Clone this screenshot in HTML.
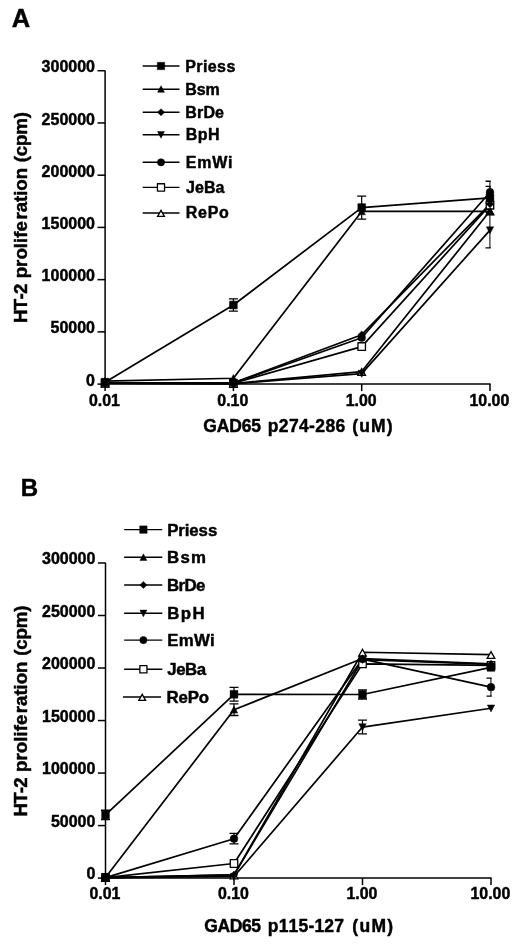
<!DOCTYPE html>
<html><head><meta charset="utf-8"><title>Figure</title>
<style>html,body{margin:0;padding:0;background:#fff}svg{display:block}</style></head>
<body>
<svg width="520" height="945" viewBox="0 0 520 945" font-family="Liberation Sans, Arial, Helvetica, sans-serif" font-weight="bold" fill="#000" stroke="#000" stroke-width="0.45" stroke-linejoin="round">
<rect width="520" height="945" fill="#fff" stroke="none"/>
<line x1="105.10" y1="70.42" x2="105.10" y2="384.70" stroke="#000" stroke-width="1.5"/>
<line x1="104.60" y1="384.10" x2="490.60" y2="384.10" stroke="#000" stroke-width="1.5"/>
<line x1="97.50" y1="384.10" x2="105.10" y2="384.10" stroke="#000" stroke-width="1.5"/>
<text x="95.00" y="385.70" font-size="16" text-anchor="end" >0</text>
<line x1="97.50" y1="331.87" x2="105.10" y2="331.87" stroke="#000" stroke-width="1.5"/>
<text x="95.00" y="333.47" font-size="16" text-anchor="end" >50000</text>
<line x1="97.50" y1="279.64" x2="105.10" y2="279.64" stroke="#000" stroke-width="1.5"/>
<text x="95.00" y="281.24" font-size="16" text-anchor="end" >100000</text>
<line x1="97.50" y1="227.41" x2="105.10" y2="227.41" stroke="#000" stroke-width="1.5"/>
<text x="95.00" y="229.01" font-size="16" text-anchor="end" >150000</text>
<line x1="97.50" y1="175.18" x2="105.10" y2="175.18" stroke="#000" stroke-width="1.5"/>
<text x="95.00" y="176.78" font-size="16" text-anchor="end" >200000</text>
<line x1="97.50" y1="122.95" x2="105.10" y2="122.95" stroke="#000" stroke-width="1.5"/>
<text x="95.00" y="124.55" font-size="16" text-anchor="end" >250000</text>
<line x1="97.50" y1="70.72" x2="105.10" y2="70.72" stroke="#000" stroke-width="1.5"/>
<text x="95.00" y="72.32" font-size="16" text-anchor="end" >300000</text>
<line x1="105.10" y1="384.10" x2="105.10" y2="391.10" stroke="#000" stroke-width="1.5"/>
<text x="104.50" y="405.50" font-size="15.9" text-anchor="middle" >0.01</text>
<line x1="233.40" y1="384.10" x2="233.40" y2="391.10" stroke="#000" stroke-width="1.5"/>
<text x="232.80" y="405.50" font-size="15.9" text-anchor="middle" >0.10</text>
<line x1="361.70" y1="384.10" x2="361.70" y2="391.10" stroke="#000" stroke-width="1.5"/>
<text x="361.10" y="405.50" font-size="15.9" text-anchor="middle" >1.00</text>
<line x1="490.00" y1="384.10" x2="490.00" y2="391.10" stroke="#000" stroke-width="1.5"/>
<text x="489.40" y="405.50" font-size="15.9" text-anchor="middle" >10.00</text>
<polyline fill="none" stroke="#000" stroke-width="1.7" stroke-linejoin="round" points="105.10,383.26 233.40,383.58 361.70,371.56 490.00,210.91"/>
<polyline fill="none" stroke="#000" stroke-width="1.7" stroke-linejoin="round" points="105.10,383.06 233.40,383.26 361.70,346.60 490.00,205.16"/>
<polyline fill="none" stroke="#000" stroke-width="1.7" stroke-linejoin="round" points="105.10,382.74 233.40,383.16 361.70,337.72 490.00,192.21"/>
<polyline fill="none" stroke="#000" stroke-width="1.7" stroke-linejoin="round" points="105.10,383.26 233.40,383.79 361.70,373.65 490.00,230.13"/>
<polyline fill="none" stroke="#000" stroke-width="1.7" stroke-linejoin="round" points="105.10,382.74 233.40,382.85 361.70,334.69 490.00,204.12"/>
<polyline fill="none" stroke="#000" stroke-width="1.7" stroke-linejoin="round" points="105.10,381.07 233.40,378.25 361.70,211.43 490.00,211.43"/>
<polyline fill="none" stroke="#000" stroke-width="1.7" stroke-linejoin="round" points="105.10,382.22 233.40,305.02 361.70,207.56 490.00,197.95"/>
<clipPath id="c384"><rect x="95.1" y="49.8" width="395.60" height="354.3"/></clipPath>
<g clip-path="url(#c384)">
<line x1="233.40" y1="298.97" x2="233.40" y2="311.08" stroke="#000" stroke-width="1.2"/>
<line x1="228.90" y1="298.97" x2="237.90" y2="298.97" stroke="#000" stroke-width="1.3"/>
<line x1="228.90" y1="311.08" x2="237.90" y2="311.08" stroke="#000" stroke-width="1.3"/>
<line x1="361.70" y1="196.07" x2="361.70" y2="219.05" stroke="#000" stroke-width="1.2"/>
<line x1="357.20" y1="196.07" x2="366.20" y2="196.07" stroke="#000" stroke-width="1.3"/>
<line x1="357.20" y1="219.05" x2="366.20" y2="219.05" stroke="#000" stroke-width="1.3"/>
<line x1="490.00" y1="186.46" x2="490.00" y2="209.44" stroke="#000" stroke-width="1.2"/>
<line x1="485.50" y1="186.46" x2="494.50" y2="186.46" stroke="#000" stroke-width="1.3"/>
<line x1="485.50" y1="209.44" x2="494.50" y2="209.44" stroke="#000" stroke-width="1.3"/>
<line x1="490.00" y1="212.37" x2="490.00" y2="247.88" stroke="#000" stroke-width="1.2"/>
<line x1="485.50" y1="212.37" x2="494.50" y2="212.37" stroke="#000" stroke-width="1.3"/>
<line x1="485.50" y1="247.88" x2="494.50" y2="247.88" stroke="#000" stroke-width="1.3"/>
<line x1="490.00" y1="181.24" x2="490.00" y2="203.18" stroke="#000" stroke-width="1.2"/>
<line x1="485.50" y1="181.24" x2="494.50" y2="181.24" stroke="#000" stroke-width="1.3"/>
<line x1="485.50" y1="203.18" x2="494.50" y2="203.18" stroke="#000" stroke-width="1.3"/>
</g>
<polygon points="105.10,380.28 108.92,387.12 101.28,387.12" fill="#fff" stroke-width="1.3" stroke-linejoin="miter"/>
<polygon points="233.40,380.59 237.22,387.44 229.58,387.44" fill="#fff" stroke-width="1.3" stroke-linejoin="miter"/>
<polygon points="361.70,368.58 365.52,375.42 357.88,375.42" fill="#fff" stroke-width="1.3" stroke-linejoin="miter"/>
<polygon points="490.00,207.92 493.82,214.76 486.18,214.76" fill="#fff" stroke-width="1.3" stroke-linejoin="miter"/>
<rect x="101.35" y="379.21" width="7.50" height="7.70" fill="#fff" stroke-width="1.3"/>
<rect x="229.65" y="379.41" width="7.50" height="7.70" fill="#fff" stroke-width="1.3"/>
<rect x="357.95" y="342.75" width="7.50" height="7.70" fill="#fff" stroke-width="1.3"/>
<rect x="486.25" y="201.31" width="7.50" height="7.70" fill="#fff" stroke-width="1.3"/>
<circle cx="105.10" cy="382.74" r="3.85"/>
<circle cx="233.40" cy="383.16" r="3.85"/>
<circle cx="361.70" cy="337.72" r="3.85"/>
<circle cx="490.00" cy="192.21" r="3.85"/>
<polygon points="105.10,386.97 108.80,379.95 101.39,379.95"/>
<polygon points="233.40,387.49 237.11,380.47 229.69,380.47"/>
<polygon points="361.70,377.36 365.40,370.34 358.00,370.34"/>
<polygon points="490.00,233.83 493.70,226.81 486.30,226.81"/>
<polygon points="105.10,379.04 108.92,382.74 105.10,386.45 101.28,382.74"/>
<polygon points="233.40,379.14 237.22,382.85 233.40,386.55 229.58,382.85"/>
<polygon points="361.70,330.99 365.52,334.69 361.70,338.40 357.88,334.69"/>
<polygon points="490.00,200.41 493.82,204.12 490.00,207.82 486.18,204.12"/>
<polygon points="105.10,377.37 108.80,384.39 101.39,384.39"/>
<polygon points="233.40,374.55 237.11,381.57 229.69,381.57"/>
<polygon points="361.70,207.72 365.40,214.74 358.00,214.74"/>
<polygon points="490.00,207.72 493.70,214.74 486.30,214.74"/>
<rect x="101.20" y="378.32" width="7.80" height="7.80"/>
<rect x="229.50" y="301.12" width="7.80" height="7.80"/>
<rect x="357.80" y="203.66" width="7.80" height="7.80"/>
<rect x="486.10" y="194.05" width="7.80" height="7.80"/>
<line x1="142.70" y1="66.00" x2="179.50" y2="66.00" stroke="#000" stroke-width="1.4"/>
<rect x="157.30" y="62.30" width="7.40" height="7.40"/>
<text x="185.25" y="71.80" font-size="16" text-anchor="start" letter-spacing="0.408" >Priess</text>
<line x1="142.70" y1="89.20" x2="179.50" y2="89.20" stroke="#000" stroke-width="1.4"/>
<polygon points="161.00,85.69 164.51,92.34 157.49,92.34"/>
<text x="185.25" y="95.10" font-size="16" text-anchor="start" letter-spacing="-0.084" >Bsm</text>
<line x1="142.70" y1="112.30" x2="179.50" y2="112.30" stroke="#000" stroke-width="1.4"/>
<polygon points="161.00,108.78 164.63,112.30 161.00,115.81 157.37,112.30"/>
<text x="185.25" y="118.00" font-size="16" text-anchor="start" letter-spacing="0.178" >BrDe</text>
<line x1="142.70" y1="134.70" x2="179.50" y2="134.70" stroke="#000" stroke-width="1.4"/>
<polygon points="161.00,138.21 164.51,131.55 157.49,131.55"/>
<text x="185.65" y="140.20" font-size="16" text-anchor="start" letter-spacing="0.458" >BpH</text>
<line x1="142.70" y1="162.30" x2="179.50" y2="162.30" stroke="#000" stroke-width="1.4"/>
<circle cx="161.00" cy="162.30" r="3.65"/>
<text x="185.65" y="167.80" font-size="16" text-anchor="start" letter-spacing="0.869" >EmWi</text>
<line x1="142.70" y1="187.40" x2="179.50" y2="187.40" stroke="#000" stroke-width="1.4"/>
<rect x="157.45" y="183.75" width="7.10" height="7.30" fill="#fff" stroke-width="1.3"/>
<text x="186.08" y="192.70" font-size="16" text-anchor="start" letter-spacing="0.014" >JeBa</text>
<line x1="142.70" y1="213.00" x2="179.50" y2="213.00" stroke="#000" stroke-width="1.4"/>
<polygon points="161.00,210.34 164.40,216.44 157.60,216.44" fill="#fff" stroke-width="1.3" stroke-linejoin="miter"/>
<text x="185.65" y="217.60" font-size="16" text-anchor="start" letter-spacing="0.782" >RePo</text>
<text x="203.21 216.67 229.16 241.65 251.23 260.96 267.77 278.82 288.91 299.01 309.10 315.29 325.38 335.47 345.21 352.25 359.24 371.08 386.82" y="431.5" font-size="17.5">GAD65 p274-286 (uM)</text>
<text transform="translate(27.2,321.90) rotate(-90)" x="-1.03 11.71 22.36 27.82 38.22 43.59 55.03 62.32 73.76 78.96 84.17 90.41 102.39 109.61 119.95 126.12 131.25 142.61 154.03 159.69 165.75 175.98 187.22 203.68" y="0" font-size="18.7">HT-2 proliferation (cpm)</text>
<text x="11.69" y="26.70" font-size="25.5" text-anchor="start" >A</text>
<line x1="105.50" y1="562.68" x2="105.50" y2="878.70" stroke="#000" stroke-width="1.5"/>
<line x1="105.00" y1="878.10" x2="491.60" y2="878.10" stroke="#000" stroke-width="1.5"/>
<line x1="97.90" y1="878.10" x2="105.50" y2="878.10" stroke="#000" stroke-width="1.5"/>
<text x="95.40" y="879.10" font-size="16" text-anchor="end" >0</text>
<line x1="97.90" y1="825.58" x2="105.50" y2="825.58" stroke="#000" stroke-width="1.5"/>
<text x="95.40" y="826.58" font-size="16" text-anchor="end" >50000</text>
<line x1="97.90" y1="773.06" x2="105.50" y2="773.06" stroke="#000" stroke-width="1.5"/>
<text x="95.40" y="774.06" font-size="16" text-anchor="end" >100000</text>
<line x1="97.90" y1="720.54" x2="105.50" y2="720.54" stroke="#000" stroke-width="1.5"/>
<text x="95.40" y="721.54" font-size="16" text-anchor="end" >150000</text>
<line x1="97.90" y1="668.02" x2="105.50" y2="668.02" stroke="#000" stroke-width="1.5"/>
<text x="95.40" y="669.02" font-size="16" text-anchor="end" >200000</text>
<line x1="97.90" y1="615.50" x2="105.50" y2="615.50" stroke="#000" stroke-width="1.5"/>
<text x="95.40" y="616.50" font-size="16" text-anchor="end" >250000</text>
<line x1="97.90" y1="562.98" x2="105.50" y2="562.98" stroke="#000" stroke-width="1.5"/>
<text x="95.40" y="563.98" font-size="16" text-anchor="end" >300000</text>
<line x1="105.50" y1="878.10" x2="105.50" y2="885.10" stroke="#000" stroke-width="1.5"/>
<text x="104.90" y="898.80" font-size="15.9" text-anchor="middle" >0.01</text>
<line x1="234.00" y1="878.10" x2="234.00" y2="885.10" stroke="#000" stroke-width="1.5"/>
<text x="233.40" y="898.80" font-size="15.9" text-anchor="middle" >0.10</text>
<line x1="362.50" y1="878.10" x2="362.50" y2="885.10" stroke="#000" stroke-width="1.5"/>
<text x="361.90" y="898.80" font-size="15.9" text-anchor="middle" >1.00</text>
<line x1="491.00" y1="878.10" x2="491.00" y2="885.10" stroke="#000" stroke-width="1.5"/>
<text x="490.40" y="898.80" font-size="15.9" text-anchor="middle" >10.00</text>
<polyline fill="none" stroke="#000" stroke-width="1.7" stroke-linejoin="round" points="105.50,877.57 234.00,874.95 362.50,652.26 491.00,654.57"/>
<polyline fill="none" stroke="#000" stroke-width="1.7" stroke-linejoin="round" points="105.50,877.57 234.00,863.50 362.50,663.82 491.00,665.39"/>
<polyline fill="none" stroke="#000" stroke-width="1.7" stroke-linejoin="round" points="105.50,877.57 234.00,838.71 362.50,659.09 491.00,687.14"/>
<polyline fill="none" stroke="#000" stroke-width="1.7" stroke-linejoin="round" points="105.50,877.57 234.00,876.52 362.50,727.05 491.00,708.25"/>
<polyline fill="none" stroke="#000" stroke-width="1.7" stroke-linejoin="round" points="105.50,877.57 234.00,874.95 362.50,659.62 491.00,664.34"/>
<polyline fill="none" stroke="#000" stroke-width="1.7" stroke-linejoin="round" points="105.50,877.57 234.00,709.72 362.50,658.57 491.00,663.82"/>
<polyline fill="none" stroke="#000" stroke-width="1.7" stroke-linejoin="round" points="105.50,814.97 234.00,694.28 362.50,694.49 491.00,667.39"/>
<clipPath id="c878"><rect x="95.5" y="542.0" width="396.20" height="356.1"/></clipPath>
<g clip-path="url(#c878)">
<line x1="105.50" y1="810.24" x2="105.50" y2="819.70" stroke="#000" stroke-width="1.2"/>
<line x1="101.00" y1="810.24" x2="110.00" y2="810.24" stroke="#000" stroke-width="1.3"/>
<line x1="101.00" y1="819.70" x2="110.00" y2="819.70" stroke="#000" stroke-width="1.3"/>
<line x1="234.00" y1="687.45" x2="234.00" y2="701.11" stroke="#000" stroke-width="1.2"/>
<line x1="229.50" y1="687.45" x2="238.50" y2="687.45" stroke="#000" stroke-width="1.3"/>
<line x1="229.50" y1="701.11" x2="238.50" y2="701.11" stroke="#000" stroke-width="1.3"/>
<line x1="362.50" y1="689.97" x2="362.50" y2="699.01" stroke="#000" stroke-width="1.2"/>
<line x1="358.00" y1="689.97" x2="367.00" y2="689.97" stroke="#000" stroke-width="1.3"/>
<line x1="358.00" y1="699.01" x2="367.00" y2="699.01" stroke="#000" stroke-width="1.3"/>
<line x1="234.00" y1="703.94" x2="234.00" y2="715.50" stroke="#000" stroke-width="1.2"/>
<line x1="229.50" y1="703.94" x2="238.50" y2="703.94" stroke="#000" stroke-width="1.3"/>
<line x1="229.50" y1="715.50" x2="238.50" y2="715.50" stroke="#000" stroke-width="1.3"/>
<line x1="362.50" y1="720.22" x2="362.50" y2="733.88" stroke="#000" stroke-width="1.2"/>
<line x1="358.00" y1="720.22" x2="367.00" y2="720.22" stroke="#000" stroke-width="1.3"/>
<line x1="358.00" y1="733.88" x2="367.00" y2="733.88" stroke="#000" stroke-width="1.3"/>
<line x1="234.00" y1="833.46" x2="234.00" y2="843.96" stroke="#000" stroke-width="1.2"/>
<line x1="229.50" y1="833.46" x2="238.50" y2="833.46" stroke="#000" stroke-width="1.3"/>
<line x1="229.50" y1="843.96" x2="238.50" y2="843.96" stroke="#000" stroke-width="1.3"/>
<line x1="491.00" y1="678.10" x2="491.00" y2="696.17" stroke="#000" stroke-width="1.2"/>
<line x1="486.50" y1="678.10" x2="495.50" y2="678.10" stroke="#000" stroke-width="1.3"/>
<line x1="486.50" y1="696.17" x2="495.50" y2="696.17" stroke="#000" stroke-width="1.3"/>
</g>
<polygon points="105.50,874.59 109.32,881.43 101.68,881.43" fill="#fff" stroke-width="1.3" stroke-linejoin="miter"/>
<polygon points="234.00,871.96 237.82,878.81 230.18,878.81" fill="#fff" stroke-width="1.3" stroke-linejoin="miter"/>
<polygon points="362.50,649.28 366.32,656.12 358.68,656.12" fill="#fff" stroke-width="1.3" stroke-linejoin="miter"/>
<polygon points="491.00,651.59 494.82,658.43 487.18,658.43" fill="#fff" stroke-width="1.3" stroke-linejoin="miter"/>
<rect x="101.75" y="873.72" width="7.50" height="7.70" fill="#fff" stroke-width="1.3"/>
<rect x="230.25" y="859.65" width="7.50" height="7.70" fill="#fff" stroke-width="1.3"/>
<rect x="358.75" y="659.97" width="7.50" height="7.70" fill="#fff" stroke-width="1.3"/>
<rect x="487.25" y="661.54" width="7.50" height="7.70" fill="#fff" stroke-width="1.3"/>
<circle cx="105.50" cy="877.57" r="3.85"/>
<circle cx="234.00" cy="838.71" r="3.85"/>
<circle cx="362.50" cy="659.09" r="3.85"/>
<circle cx="491.00" cy="687.14" r="3.85"/>
<polygon points="105.50,881.28 109.20,874.26 101.80,874.26"/>
<polygon points="234.00,880.23 237.71,873.21 230.29,873.21"/>
<polygon points="362.50,730.76 366.20,723.74 358.80,723.74"/>
<polygon points="491.00,711.96 494.70,704.94 487.30,704.94"/>
<polygon points="105.50,873.87 109.32,877.57 105.50,881.28 101.68,877.57"/>
<polygon points="234.00,871.24 237.82,874.95 234.00,878.65 230.18,874.95"/>
<polygon points="362.50,655.91 366.32,659.62 362.50,663.32 358.68,659.62"/>
<polygon points="491.00,660.64 494.82,664.34 491.00,668.05 487.18,664.34"/>
<polygon points="105.50,873.87 109.20,880.89 101.80,880.89"/>
<polygon points="234.00,706.02 237.71,713.04 230.29,713.04"/>
<polygon points="362.50,654.86 366.20,661.88 358.80,661.88"/>
<polygon points="491.00,660.11 494.70,667.13 487.30,667.13"/>
<rect x="101.60" y="811.07" width="7.80" height="7.80"/>
<rect x="230.10" y="690.38" width="7.80" height="7.80"/>
<rect x="358.60" y="690.59" width="7.80" height="7.80"/>
<rect x="487.10" y="663.49" width="7.80" height="7.80"/>
<line x1="124.20" y1="529.60" x2="162.30" y2="529.60" stroke="#000" stroke-width="1.4"/>
<rect x="139.70" y="525.90" width="7.40" height="7.40"/>
<text transform="translate(167.20,535.60) scale(1.02,1)" font-size="16.5" letter-spacing="-0.091">Priess</text>
<line x1="124.20" y1="557.30" x2="162.30" y2="557.30" stroke="#000" stroke-width="1.4"/>
<polygon points="143.40,553.78 146.91,560.44 139.89,560.44"/>
<text transform="translate(167.10,562.50) scale(1.02,1)" font-size="16.5" letter-spacing="1.147">Bsm</text>
<line x1="124.20" y1="585.00" x2="162.30" y2="585.00" stroke="#000" stroke-width="1.4"/>
<polygon points="143.40,581.49 147.03,585.00 143.40,588.51 139.77,585.00"/>
<text transform="translate(167.10,591.20) scale(1.02,1)" font-size="16.5" letter-spacing="-0.643">BrDe</text>
<line x1="124.20" y1="613.20" x2="162.30" y2="613.20" stroke="#000" stroke-width="1.4"/>
<polygon points="143.40,616.72 146.91,610.06 139.89,610.06"/>
<text transform="translate(167.20,619.20) scale(1.02,1)" font-size="16.5" letter-spacing="1.383">BpH</text>
<line x1="124.20" y1="640.10" x2="162.30" y2="640.10" stroke="#000" stroke-width="1.4"/>
<circle cx="143.40" cy="640.10" r="3.65"/>
<text transform="translate(167.20,646.10) scale(1.02,1)" font-size="16.5" letter-spacing="0.267">EmWi</text>
<line x1="124.20" y1="669.30" x2="162.30" y2="669.30" stroke="#000" stroke-width="1.4"/>
<rect x="139.85" y="665.65" width="7.10" height="7.30" fill="#fff" stroke-width="1.3"/>
<text transform="translate(167.37,675.40) scale(1.02,1)" font-size="16.5" letter-spacing="-0.502">JeBa</text>
<line x1="123.00" y1="697.00" x2="161.10" y2="697.00" stroke="#000" stroke-width="1.4"/>
<polygon points="142.20,694.34 145.60,700.44 138.80,700.44" fill="#fff" stroke-width="1.3" stroke-linejoin="miter"/>
<text transform="translate(166.50,702.70) scale(1.02,1)" font-size="16.5" letter-spacing="-0.126">RePo</text>
<text x="204.21 217.42 229.66 241.90 251.23 260.96 267.77 278.64 288.55 298.47 308.38 314.39 324.30 334.21 343.94 352.25 359.40 371.42 387.32" y="932.3" font-size="17.5">GAD65 p115-127 (uM)</text>
<text transform="translate(27.2,815.50) rotate(-90)" x="-1.03 11.71 22.36 27.82 38.22 43.59 55.03 62.32 73.76 78.96 84.17 90.41 102.39 109.61 119.95 126.12 131.25 142.61 154.03 159.69 165.75 175.98 187.22 203.68" y="0" font-size="18.7">HT-2 proliferation (cpm)</text>
<text x="20.72" y="495.70" font-size="24" text-anchor="start" >B</text>
</svg>
</body></html>
